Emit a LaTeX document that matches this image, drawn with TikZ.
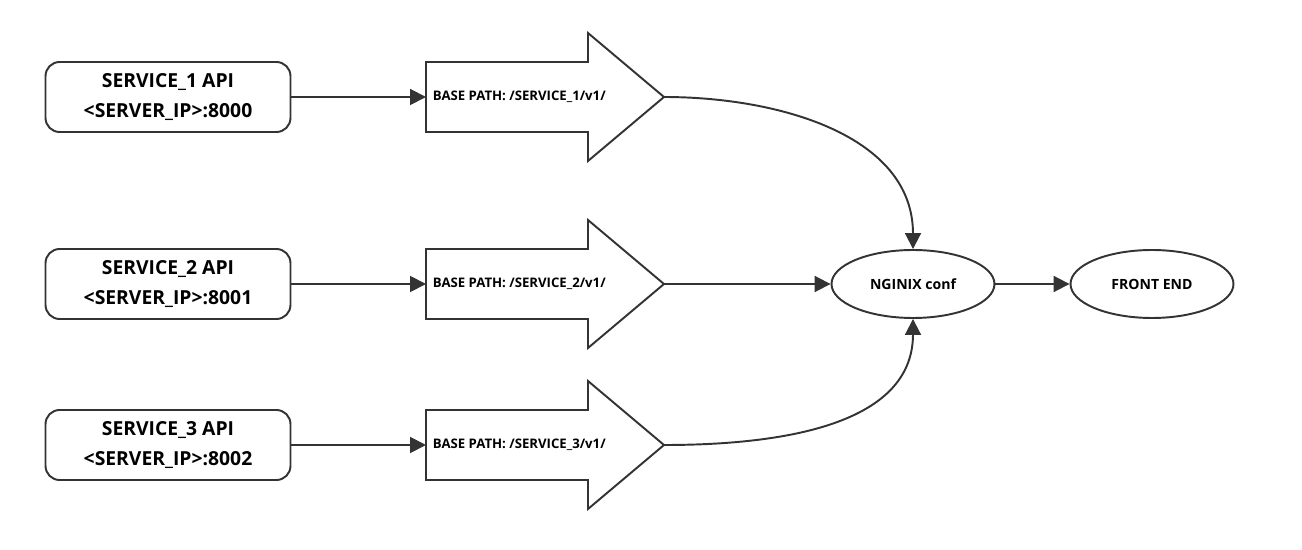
\documentclass[tikz,border=0pt]{standalone}
\usepackage{fontspec}
\setmainfont{Open Sans}
\usetikzlibrary{positioning,shapes,arrows.meta}
\definecolor{ink}{HTML}{333333}
\begin{document}
\begin{tikzpicture}
[x=0.02cm, y=-0.02cm, line width=1.1pt, draw=ink,
 service/.style={draw=ink, rounded corners=8pt, minimum width=4.9cm, minimum height=1.4cm,
   align=center, font=\bfseries\fontsize{11}{17}\selectfont},
 conf/.style={draw=ink, ellipse, minimum width=3.26cm, minimum height=1.36cm, font=\bfseries\footnotesize},
 pathlabel/.style={font=\bfseries\fontsize{7.5}{9}\selectfont, anchor=west, inner sep=0pt},
 link/.style={draw=ink, -{Triangle[length=9pt,width=9pt]}}]
\useasboundingbox (0,0) rectangle (1302,550);
% the three services and their base paths
\foreach \n/\y/\port in {1/97/8000, 2/284/8001, 3/445/8002} {
  \node[service] (svc\n) at (168,\y) {SERVICE\_\n{} API\\<SERVER\_IP>:\port};
  \draw[fill=white] (426,\y-35) -- (588,\y-35) -- (588,\y-64) -- (664,\y)
     -- (588,\y+64) -- (588,\y+35) -- (426,\y+35) -- cycle;
  \coordinate (tail\n) at (426,\y);
  \coordinate (tip\n) at (664,\y);
  \node[pathlabel] (base\n) at (432,\y) {BASE PATH: /SERVICE\_\n/v1/};
  \draw[link] (svc\n) -- (tail\n);
}
\node[conf] (nginx) at (913,284) {NGINIX conf};
\node[conf] (front) at (1152,284) {FRONT END};
\draw[link] (tip1) to[out=0, in=90] (nginx.north);
\draw[link] (tip2) -- (nginx);
\draw[link] (tip3) to[out=0, in=-90] (nginx.south);
\draw[link] (nginx) -- (front);
\end{tikzpicture}
\end{document}
